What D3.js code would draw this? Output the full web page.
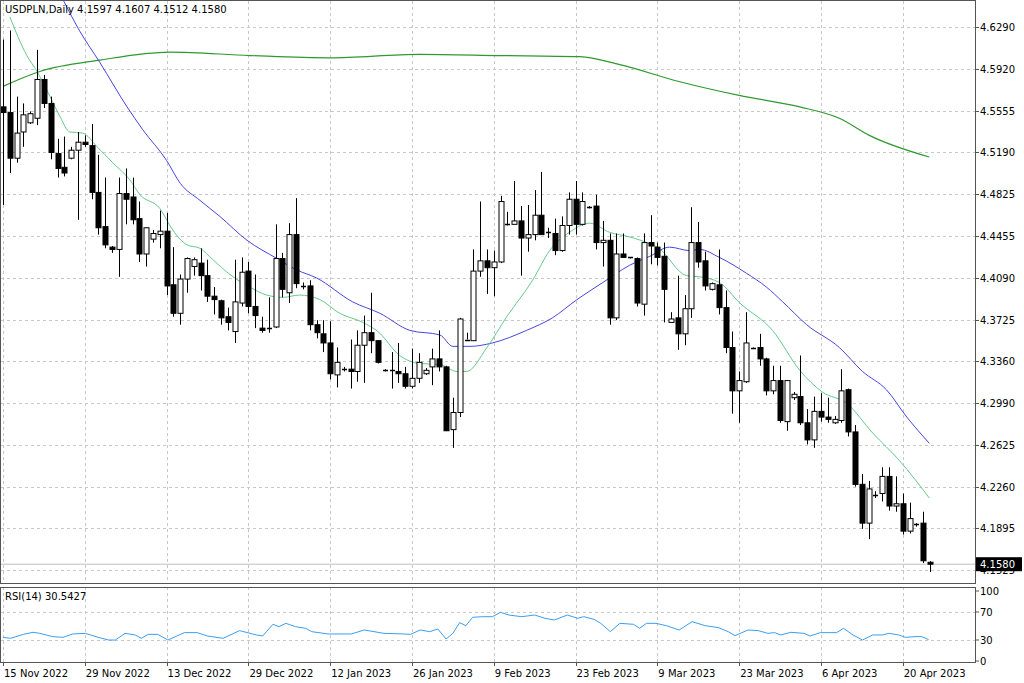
<!DOCTYPE html>
<html><head><meta charset="utf-8">
<script src="https://cdn.jsdelivr.net/npm/d3@7"></script>
<style>body{margin:0;background:#fff}svg{display:block}text{font-family:"DejaVu Sans",sans-serif;font-size:10px}</style>
</head><body><svg id="c" width="1024" height="683"></svg>
<script>
const opens=[4.559,4.554,4.514,4.537,4.545,4.549,4.583,4.562,4.518,4.506,4.514,4.521,4.528,4.525,4.484,4.454,4.436,4.434,4.483,4.480,4.461,4.430,4.443,4.447,4.450,4.403,4.378,4.408,4.419,4.422,4.411,4.393,4.389,4.375,4.362,4.387,4.415,4.384,4.365,4.365,4.366,4.426,4.396,4.447,4.402,4.402,4.368,4.360,4.352,4.324,4.328,4.329,4.327,4.350,4.361,4.354,4.328,4.328,4.327,4.325,4.314,4.321,4.325,4.331,4.338,4.331,4.276,4.291,4.355,4.354,4.415,4.424,4.418,4.423,4.456,4.456,4.459,4.444,4.447,4.464,4.449,4.448,4.433,4.455,4.478,4.456,4.471,4.472,4.440,4.442,4.374,4.430,4.427,4.426,4.386,4.440,4.436,4.428,4.370,4.374,4.360,4.382,4.440,4.424,4.399,4.403,4.383,4.348,4.310,4.318,4.348,4.348,4.338,4.310,4.319,4.283,4.304,4.305,4.282,4.267,4.292,4.287,4.282,4.284,4.311,4.274,4.228,4.194,4.218,4.220,4.235,4.209,4.211,4.187,4.192,4.194,4.1597];
const highs=[4.618,4.626,4.568,4.562,4.555,4.609,4.587,4.568,4.531,4.533,4.524,4.537,4.534,4.544,4.517,4.497,4.437,4.497,4.505,4.497,4.476,4.453,4.451,4.468,4.466,4.436,4.412,4.427,4.427,4.435,4.425,4.401,4.390,4.383,4.425,4.427,4.423,4.412,4.375,4.392,4.456,4.431,4.457,4.479,4.405,4.407,4.372,4.372,4.371,4.348,4.331,4.355,4.363,4.376,4.396,4.354,4.329,4.344,4.352,4.331,4.347,4.343,4.330,4.347,4.363,4.332,4.304,4.374,4.361,4.434,4.476,4.434,4.433,4.481,4.467,4.494,4.472,4.473,4.486,4.502,4.453,4.461,4.463,4.484,4.494,4.484,4.472,4.482,4.459,4.448,4.448,4.448,4.427,4.427,4.448,4.464,4.440,4.440,4.379,4.411,4.394,4.471,4.458,4.432,4.405,4.434,4.398,4.362,4.327,4.379,4.348,4.360,4.339,4.332,4.332,4.319,4.309,4.341,4.294,4.305,4.308,4.304,4.288,4.329,4.312,4.280,4.237,4.231,4.222,4.243,4.243,4.235,4.220,4.212,4.194,4.204,4.1607];
const lows=[4.473,4.501,4.510,4.524,4.544,4.543,4.558,4.513,4.497,4.498,4.513,4.460,4.524,4.478,4.447,4.435,4.431,4.410,4.456,4.456,4.423,4.419,4.440,4.435,4.394,4.375,4.368,4.396,4.411,4.398,4.388,4.377,4.368,4.363,4.352,4.384,4.378,4.365,4.361,4.361,4.365,4.392,4.387,4.400,4.399,4.363,4.356,4.344,4.320,4.313,4.327,4.312,4.318,4.317,4.343,4.334,4.327,4.312,4.317,4.312,4.312,4.317,4.324,4.315,4.327,4.275,4.260,4.287,4.355,4.354,4.410,4.395,4.393,4.422,4.455,4.456,4.411,4.432,4.442,4.447,4.444,4.429,4.432,4.447,4.447,4.455,4.470,4.434,4.419,4.368,4.372,4.427,4.426,4.384,4.376,4.421,4.420,4.370,4.370,4.346,4.350,4.374,4.418,4.398,4.398,4.377,4.343,4.290,4.282,4.317,4.347,4.332,4.306,4.307,4.282,4.275,4.302,4.280,4.263,4.260,4.283,4.282,4.281,4.282,4.270,4.226,4.189,4.180,4.216,4.213,4.205,4.204,4.184,4.185,4.191,4.159,4.1512];
const closes=[4.554,4.514,4.536,4.552,4.553,4.583,4.562,4.519,4.505,4.501,4.521,4.528,4.526,4.484,4.453,4.438,4.434,4.483,4.478,4.460,4.430,4.453,4.448,4.450,4.402,4.378,4.408,4.426,4.425,4.411,4.393,4.390,4.374,4.370,4.388,4.414,4.384,4.376,4.363,4.365,4.426,4.399,4.447,4.404,4.402,4.368,4.361,4.352,4.325,4.335,4.329,4.327,4.350,4.361,4.354,4.335,4.328,4.327,4.325,4.314,4.321,4.335,4.328,4.338,4.331,4.275,4.291,4.373,4.355,4.415,4.424,4.418,4.423,4.476,4.456,4.459,4.444,4.447,4.464,4.447,4.449,4.433,4.455,4.478,4.456,4.476,4.471,4.440,4.442,4.374,4.430,4.427,4.426,4.387,4.440,4.437,4.427,4.399,4.373,4.360,4.382,4.440,4.423,4.402,4.404,4.383,4.348,4.310,4.319,4.352,4.348,4.338,4.310,4.319,4.284,4.319,4.307,4.282,4.267,4.292,4.287,4.285,4.285,4.310,4.274,4.228,4.194,4.224,4.219,4.235,4.209,4.211,4.187,4.198,4.193,4.161,4.1580];
const maSlow=[[0,4.577],[5.4,4.590],[14.2,4.600],[24.5,4.607],[36.2,4.604],[47.9,4.602],[61.1,4.605],[72.9,4.604],[84.6,4.603],[90.5,4.596],[99.3,4.581],[108,4.569],[116.9,4.559],[122.7,4.549],[127.1,4.534],[135.9,4.515]];
const maMid=[[8.8,4.653],[11.3,4.625],[14.2,4.598],[18.2,4.559],[20.5,4.539],[24,4.512],[26,4.492],[28.9,4.477],[31.8,4.463],[35.8,4.442],[40.2,4.426],[43.1,4.416],[46,4.409],[51.3,4.388],[55.3,4.378],[59.7,4.363],[64.1,4.359],[66,4.349],[68.5,4.349],[71.8,4.352],[76.8,4.363],[80.6,4.374],[84.2,4.390],[88,4.405],[91.9,4.420],[94.9,4.428],[97.8,4.436],[100.7,4.433],[102.2,4.434],[105.1,4.427],[109.1,4.413],[112,4.401],[114.4,4.388],[117.9,4.368],[122.7,4.348],[126.1,4.327],[129.6,4.311],[132.6,4.287],[135.9,4.264]];
const maFast=[[1,4.638],[3.5,4.604],[5,4.590],[6.9,4.568],[8.4,4.550],[9.8,4.537],[11.7,4.536],[13.8,4.524],[16.1,4.510],[18.6,4.495],[20.1,4.482],[23,4.470],[24.9,4.451],[27,4.438],[28.9,4.435],[30.8,4.425],[33.3,4.412],[36.2,4.401],[38.7,4.394],[41.1,4.392],[43.5,4.394],[46.5,4.390],[49.4,4.378],[52.8,4.370],[55,4.362],[58.2,4.341],[61.1,4.334],[64.1,4.333],[66.6,4.327],[68,4.327],[71,4.348],[73.9,4.375],[77.7,4.407],[80.2,4.433],[83.1,4.449],[86.1,4.457],[89,4.449],[91.9,4.445],[94.9,4.439],[96,4.436],[100.3,4.411],[102.2,4.410],[105.1,4.405],[108.1,4.387],[112.9,4.363],[116.9,4.328],[120.2,4.309],[123.8,4.299],[127.6,4.273],[131.5,4.249],[135.9,4.216]];
const rsi=[[0,33.8],[1.1,32.4],[3,38.1],[4.4,41],[5.4,39.5],[7.3,34.8],[8.8,33.8],[10.2,38.6],[12.1,39.5],[14.1,33.4],[15.5,30],[16.5,30],[17.9,39.5],[19.4,37.2],[20.3,32.4],[21.3,38.1],[22.7,38.1],[24.2,30],[26.6,40.5],[28.5,40.5],[30,35.7],[32.3,32.4],[34.7,43.4],[37.2,37.2],[38.1,35.7],[39.6,52.4],[40.5,49.1],[41.5,53.8],[42.9,49.1],[44.4,46.7],[45.3,41.9],[47.7,38.6],[51.1,38.6],[53,44.3],[55.9,39.5],[58.8,38.6],[59.8,38.1],[61.2,44.3],[62.6,41.9],[63.8,45.7],[65,31.4],[66,39.5],[67,54.8],[67.9,50.4],[68.9,62.4],[70.3,63.3],[71.8,63.3],[73,69.5],[74.2,65.7],[76.1,63.3],[78,65.7],[79.5,61],[80.9,58.6],[82.8,65.7],[84.3,61],[85.2,63.3],[86.7,59.5],[87.7,53.8],[89.1,41.9],[90.5,53.8],[92.5,52.4],[93.4,46.7],[94.4,53.8],[95.8,53.8],[97.3,50.5],[99.2,44.3],[101.1,56.2],[103,50.5],[105,47.6],[106.4,41.9],[107.4,36.2],[109.3,44.3],[110.8,43.4],[112.2,39.5],[113.2,40.5],[114.1,37.2],[115.6,41],[117.5,39.5],[118.4,35.7],[119.9,40.5],[122.3,40.5],[123.3,46.7],[124.7,37.2],[126.1,30],[127.6,37.2],[129,37.2],[130,39.5],[131.4,37.2],[132.4,33.8],[133.8,34.8],[134.8,34.8],[135.8,30.5]];
const priceTicks=[4.6290,4.5920,4.5555,4.5190,4.4825,4.4455,4.4090,4.3725,4.3360,4.2990,4.2625,4.2260,4.1895,4.1525];
const rsiTicks=[100,70,30,0];
const dateIdx=[0,12,24,36,48,60,72,84,96,108,120,132];
const dateLabels=["15 Nov 2022","29 Nov 2022","13 Dec 2022","29 Dec 2022","12 Jan 2023","26 Jan 2023","9 Feb 2023","23 Feb 2023","9 Mar 2023","23 Mar 2023","6 Apr 2023","20 Apr 2023"];

const svg=d3.select("#c");
const R=975, mainB=583, rTop=587, rBot=662;
const x=d3.scaleLinear().domain([0,136]).range([3,930]);
const y=d3.scaleLinear().domain([4.6527,4.1424]).range([0,582]);
const yr=d3.scaleLinear().domain([0,100]).range([661,591]);
const dash="3,3", gc="#c8c8c8";
// clip
svg.append("clipPath").attr("id","cm").append("rect").attr("x",1).attr("y",1).attr("width",R-1).attr("height",mainB-1);
// grid
const g=svg.append("g");
dateIdx.forEach(i=>{
  g.append("line").attr("x1",Math.round(x(i))+.5).attr("x2",Math.round(x(i))+.5).attr("y1",1).attr("y2",mainB).attr("stroke",gc).attr("stroke-dasharray",dash);
  g.append("line").attr("x1",Math.round(x(i))+.5).attr("x2",Math.round(x(i))+.5).attr("y1",rTop).attr("y2",rBot).attr("stroke",gc).attr("stroke-dasharray",dash);
});
priceTicks.forEach(p=>{
  g.append("line").attr("x1",1).attr("x2",R).attr("y1",Math.round(y(p))+.5).attr("y2",Math.round(y(p))+.5).attr("stroke",gc).attr("stroke-dasharray",dash);
});
[70,30].forEach(v=>g.append("line").attr("x1",1).attr("x2",R).attr("y1",Math.round(yr(v))+.5).attr("y2",Math.round(yr(v))+.5).attr("stroke",gc).attr("stroke-dasharray",dash));
// last price line
svg.append("line").attr("x1",1).attr("x2",R).attr("y1",y(closes[136])).attr("y2",y(closes[136])).attr("stroke","#c0c0c0");
const m=svg.append("g").attr("clip-path","url(#cm)");
const line=d3.line().x(d=>x(d[0])).y(d=>y(d[1])).curve(d3.curveMonotoneX);
m.append("path").attr("d",line(maSlow)).attr("fill","none").attr("stroke","#2e9a2e").attr("stroke-width",1.2);
m.append("path").attr("d",line(maMid)).attr("fill","none").attr("stroke","#4646e0").attr("stroke-width",1);
m.append("path").attr("d",line(maFast)).attr("fill","none").attr("stroke","#66c88c").attr("stroke-width",1);
// candles
const idx=d3.range(closes.length);
idx.forEach(i=>{
  const cx=Math.round(x(i))+.5;
  m.append("line").attr("x1",cx).attr("x2",cx).attr("y1",y(highs[i])).attr("y2",y(lows[i])).attr("stroke","#000");
  const t=y(Math.max(opens[i],closes[i])), b=y(Math.min(opens[i],closes[i]));
  const up=closes[i]>=opens[i];
  if(b-t<1.5){m.append("line").attr("x1",cx-2.5).attr("x2",cx+2.5).attr("y1",Math.round(t)+.5).attr("y2",Math.round(t)+.5).attr("stroke","#000").attr("stroke-width",1.5);}
  else m.append("rect").attr("x",cx-2.5).attr("y",t).attr("width",5).attr("height",b-t).attr("fill",up?"#fff":"#000").attr("stroke","#000").attr("stroke-width",1);
});
// RSI
svg.append("path").attr("d",d3.line().x(d=>x(d[0])).y(d=>yr(d[1]))(rsi)).attr("fill","none").attr("stroke","#3d9df0").attr("stroke-width",1);
// frames
svg.append("rect").attr("x",.5).attr("y",.5).attr("width",R).attr("height",mainB).attr("fill","none").attr("stroke","#555");
svg.append("rect").attr("x",.5).attr("y",rTop+.5).attr("width",R).attr("height",rBot-rTop).attr("fill","none").attr("stroke","#555");
// axis labels
priceTicks.forEach(p=>{
  svg.append("line").attr("x1",R).attr("x2",R+4).attr("y1",Math.round(y(p))+.5).attr("y2",Math.round(y(p))+.5).attr("stroke","#555");
  svg.append("text").attr("x",R+5).attr("y",y(p)+4).text(p.toFixed(4));
});
const ly=y(closes[136]);
svg.append("rect").attr("x",R+1).attr("y",ly-7).attr("width",46).attr("height",14).attr("fill","#000");
svg.append("text").attr("x",R+5).attr("y",ly+4).attr("fill","#fff").text(closes[136].toFixed(4));
rsiTicks.forEach(v=>{
  svg.append("line").attr("x1",R).attr("x2",R+4).attr("y1",yr(v)).attr("y2",yr(v)).attr("stroke","#555");
  svg.append("text").attr("x",R+5).attr("y",yr(v)+4).text(v);
});
dateIdx.forEach((i,k)=>{
  svg.append("line").attr("x1",Math.round(x(i))+.5).attr("x2",Math.round(x(i))+.5).attr("y1",rBot).attr("y2",rBot+4).attr("stroke","#555");
  svg.append("text").attr("x",x(i)+1).attr("y",677).text(dateLabels[k]);
});
svg.append("text").attr("x",5).attr("y",13).text(`USDPLN,Daily  ${opens[136].toFixed(4)} ${highs[136].toFixed(4)} ${lows[136].toFixed(4)} ${closes[136].toFixed(4)}`);
svg.append("text").attr("x",5).attr("y",600).text("RSI(14) 30.5427");
</script></body></html>
